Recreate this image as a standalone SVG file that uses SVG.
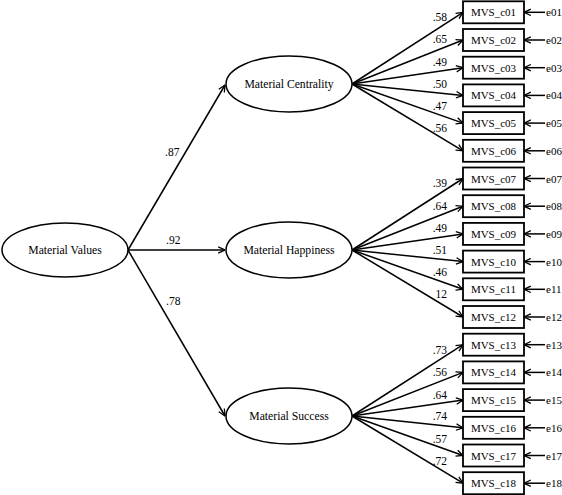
<svg xmlns="http://www.w3.org/2000/svg" width="562" height="495" viewBox="0 0 562 495">
<defs>
<marker id="arr" viewBox="0 0 10 10" refX="9.5" refY="5" markerWidth="8" markerHeight="8" markerUnits="userSpaceOnUse" orient="auto">
<path d="M1,1 L9.5,5 L1,9" fill="none" stroke="#000" stroke-width="1.6"/>
</marker>
</defs>
<style>
text{font-family:"Liberation Serif","Times New Roman",serif;fill:#000}
.lat{font-size:11.7px;text-anchor:middle}
.obs{font-size:11px;text-anchor:middle}
.err{font-size:11px}
.ld{font-size:11.5px;text-anchor:end}
.pth{font-size:11.5px}
ellipse{fill:#fff;stroke:#000;stroke-width:1.5}
rect{fill:#fff;stroke:#000;stroke-width:1.8}
.c line{stroke:#000;stroke-width:1.5;marker-end:url(#arr)}
</style>
<rect width="562" height="495" fill="#fff" style="stroke:none"/>
<g id="connectors" class="c">
<line x1="128" y1="250" x2="225" y2="85"/>
<line x1="128" y1="250" x2="225" y2="250"/>
<line x1="128" y1="250" x2="225" y2="416"/>
<line x1="352" y1="84" x2="463" y2="12.3"/>
<line x1="352" y1="84" x2="463" y2="40"/>
<line x1="352" y1="84" x2="463" y2="67.7"/>
<line x1="352" y1="84" x2="463" y2="95.4"/>
<line x1="352" y1="84" x2="463" y2="123.1"/>
<line x1="352" y1="84" x2="463" y2="150.8"/>
<line x1="352" y1="250" x2="463" y2="178.5"/>
<line x1="352" y1="250" x2="463" y2="206.2"/>
<line x1="352" y1="250" x2="463" y2="233.9"/>
<line x1="352" y1="250" x2="463" y2="261.6"/>
<line x1="352" y1="250" x2="463" y2="289.3"/>
<line x1="352" y1="250" x2="463" y2="317"/>
<line x1="352" y1="416" x2="463" y2="344.7"/>
<line x1="352" y1="416" x2="463" y2="372.4"/>
<line x1="352" y1="416" x2="463" y2="400.1"/>
<line x1="352" y1="416" x2="463" y2="427.8"/>
<line x1="352" y1="416" x2="463" y2="455.5"/>
<line x1="352" y1="416" x2="463" y2="483.2"/>
<line x1="545" y1="12.3" x2="524" y2="12.3"/>
<line x1="545" y1="40" x2="524" y2="40"/>
<line x1="545" y1="67.7" x2="524" y2="67.7"/>
<line x1="545" y1="95.4" x2="524" y2="95.4"/>
<line x1="545" y1="123.1" x2="524" y2="123.1"/>
<line x1="545" y1="150.8" x2="524" y2="150.8"/>
<line x1="545" y1="178.5" x2="524" y2="178.5"/>
<line x1="545" y1="206.2" x2="524" y2="206.2"/>
<line x1="545" y1="233.9" x2="524" y2="233.9"/>
<line x1="545" y1="261.6" x2="524" y2="261.6"/>
<line x1="545" y1="289.3" x2="524" y2="289.3"/>
<line x1="545" y1="317" x2="524" y2="317"/>
<line x1="545" y1="344.7" x2="524" y2="344.7"/>
<line x1="545" y1="372.4" x2="524" y2="372.4"/>
<line x1="545" y1="400.1" x2="524" y2="400.1"/>
<line x1="545" y1="427.8" x2="524" y2="427.8"/>
<line x1="545" y1="455.5" x2="524" y2="455.5"/>
<line x1="545" y1="483.2" x2="524" y2="483.2"/>
</g>
<g id="path-labels">
<text class="pth" x="165" y="156">.87</text>
<text class="pth" x="166" y="244">.92</text>
<text class="pth" x="166" y="305">.78</text>
<text class="ld" x="447" y="21">.58</text>
<text class="ld" x="447" y="43">.65</text>
<text class="ld" x="447" y="66">.49</text>
<text class="ld" x="447" y="88">.50</text>
<text class="ld" x="447" y="110">.47</text>
<text class="ld" x="447" y="132">.56</text>
<text class="ld" x="447" y="187">.39</text>
<text class="ld" x="447" y="210">.64</text>
<text class="ld" x="447" y="232">.49</text>
<text class="ld" x="447" y="254">.51</text>
<text class="ld" x="447" y="276">.46</text>
<text class="ld" x="447" y="298">12</text>
<text class="ld" x="447" y="354">.73</text>
<text class="ld" x="447" y="376">.56</text>
<text class="ld" x="447" y="399">.64</text>
<text class="ld" x="447" y="420">.74</text>
<text class="ld" x="447" y="443">.57</text>
<text class="ld" x="447" y="465">.72</text>
</g>
<g id="material-values"><ellipse cx="65" cy="250" rx="63" ry="27"/><text class="lat" x="65" y="254">Material Values</text></g>
<g id="material-centrality"><ellipse cx="289" cy="84" rx="63" ry="28"/><text class="lat" x="289" y="88">Material Centrality</text></g>
<g id="material-happiness"><ellipse cx="289" cy="250" rx="63" ry="28"/><text class="lat" x="289" y="254">Material Happiness</text></g>
<g id="material-success"><ellipse cx="289" cy="416" rx="63" ry="28"/><text class="lat" x="289" y="420">Material Success</text></g>
<g id="MVS_c01"><rect x="463" y="1.3" width="61" height="22"/><text class="obs" x="493.5" y="16.3">MVS_c01</text></g>
<g id="MVS_c02"><rect x="463" y="29" width="61" height="22"/><text class="obs" x="493.5" y="44">MVS_c02</text></g>
<g id="MVS_c03"><rect x="463" y="56.7" width="61" height="22"/><text class="obs" x="493.5" y="71.7">MVS_c03</text></g>
<g id="MVS_c04"><rect x="463" y="84.4" width="61" height="22"/><text class="obs" x="493.5" y="99.4">MVS_c04</text></g>
<g id="MVS_c05"><rect x="463" y="112.1" width="61" height="22"/><text class="obs" x="493.5" y="127.1">MVS_c05</text></g>
<g id="MVS_c06"><rect x="463" y="139.8" width="61" height="22"/><text class="obs" x="493.5" y="154.8">MVS_c06</text></g>
<g id="MVS_c07"><rect x="463" y="167.5" width="61" height="22"/><text class="obs" x="493.5" y="182.5">MVS_c07</text></g>
<g id="MVS_c08"><rect x="463" y="195.2" width="61" height="22"/><text class="obs" x="493.5" y="210.2">MVS_c08</text></g>
<g id="MVS_c09"><rect x="463" y="222.9" width="61" height="22"/><text class="obs" x="493.5" y="237.9">MVS_c09</text></g>
<g id="MVS_c10"><rect x="463" y="250.6" width="61" height="22"/><text class="obs" x="493.5" y="265.6">MVS_c10</text></g>
<g id="MVS_c11"><rect x="463" y="278.3" width="61" height="22"/><text class="obs" x="493.5" y="293.3">MVS_c11</text></g>
<g id="MVS_c12"><rect x="463" y="306" width="61" height="22"/><text class="obs" x="493.5" y="321">MVS_c12</text></g>
<g id="MVS_c13"><rect x="463" y="333.7" width="61" height="22"/><text class="obs" x="493.5" y="348.7">MVS_c13</text></g>
<g id="MVS_c14"><rect x="463" y="361.4" width="61" height="22"/><text class="obs" x="493.5" y="376.4">MVS_c14</text></g>
<g id="MVS_c15"><rect x="463" y="389.1" width="61" height="22"/><text class="obs" x="493.5" y="404.1">MVS_c15</text></g>
<g id="MVS_c16"><rect x="463" y="416.8" width="61" height="22"/><text class="obs" x="493.5" y="431.8">MVS_c16</text></g>
<g id="MVS_c17"><rect x="463" y="444.5" width="61" height="22"/><text class="obs" x="493.5" y="459.5">MVS_c17</text></g>
<g id="MVS_c18"><rect x="463" y="472.2" width="61" height="22"/><text class="obs" x="493.5" y="487.2">MVS_c18</text></g>
<g id="errors">
<text class="err" x="546" y="16.3">e01</text>
<text class="err" x="546" y="44">e02</text>
<text class="err" x="546" y="71.7">e03</text>
<text class="err" x="546" y="99.4">e04</text>
<text class="err" x="546" y="127.1">e05</text>
<text class="err" x="546" y="154.8">e06</text>
<text class="err" x="546" y="182.5">e07</text>
<text class="err" x="546" y="210.2">e08</text>
<text class="err" x="546" y="237.9">e09</text>
<text class="err" x="546" y="265.6">e10</text>
<text class="err" x="546" y="293.3">e11</text>
<text class="err" x="546" y="321">e12</text>
<text class="err" x="546" y="348.7">e13</text>
<text class="err" x="546" y="376.4">e14</text>
<text class="err" x="546" y="404.1">e15</text>
<text class="err" x="546" y="431.8">e16</text>
<text class="err" x="546" y="459.5">e17</text>
<text class="err" x="546" y="487.2">e18</text>
</g>
</svg>
